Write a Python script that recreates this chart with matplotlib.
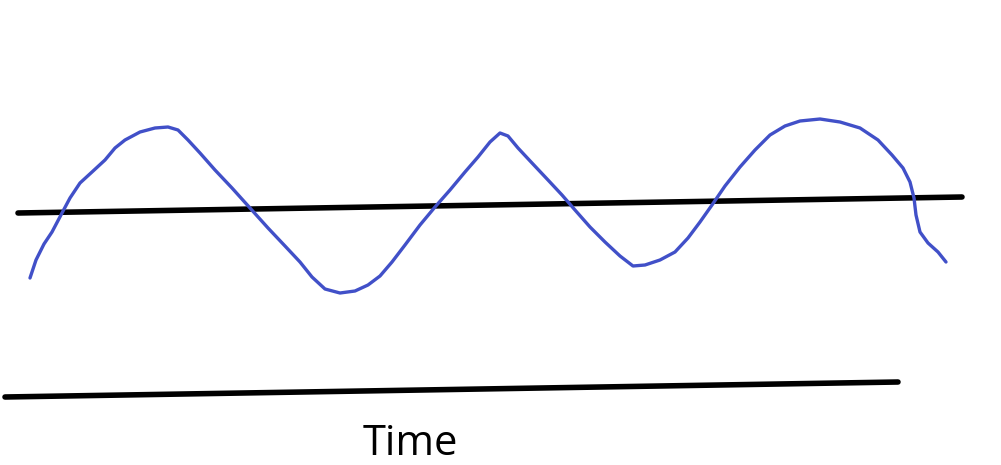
import matplotlib.pyplot as plt

# hand-drawn wave, pixel coords (y grows downward)
wave_x = [30, 36, 44, 52, 62, 70, 80, 92, 105, 115, 125, 140, 155, 168, 178, 188,
          200, 215, 232, 250, 268, 285, 300, 312, 325, 340, 355, 368, 380, 392,
          405, 420, 435, 450, 465, 478, 490, 500, 508, 518, 532, 548, 562, 575,
          590, 605, 620, 633, 645, 660, 675, 688, 700, 712, 725, 740, 755, 770,
          785, 800, 820, 840, 860, 878, 892, 903, 910, 914, 916, 920, 928, 938, 946]
wave_y = [278, 260, 244, 232, 213, 198, 183, 172, 160, 148, 140, 132, 128, 127, 130, 140,
          153, 170, 188, 208, 228, 246, 262, 277, 289, 293, 291, 285, 276, 262,
          245, 225, 207, 190, 172, 157, 142, 133, 136, 148, 163, 180, 195, 210,
          227, 242, 256, 266, 265, 260, 252, 238, 222, 205, 186, 167, 150, 135,
          126, 121, 119, 122, 128, 140, 155, 168, 182, 198, 215, 232, 243, 252, 262]

upper_x = [18, 962]
upper_y = [213, 197]
lower_x = [5, 898]
lower_y = [397, 382]

fig = plt.figure(figsize=(10.01, 4.65), dpi=100)
ax = fig.add_axes([0, 0, 1, 1])
ax.set_xlim(0, 1001)
ax.set_ylim(465, 0)
ax.axis('off')

ax.plot(upper_x, upper_y, color='black', lw=4, solid_capstyle='round', zorder=2)
ax.plot(lower_x, lower_y, color='black', lw=4, solid_capstyle='round', zorder=2)
ax.plot(wave_x, wave_y, color='#4150c8', lw=2.4, solid_capstyle='round',
        solid_joinstyle='round', zorder=3)

ax.text(410, 455, 'Time', fontsize=30, family='Open Sans', ha='center', va='baseline')

fig.savefig('out.png', dpi=100, facecolor='white')
